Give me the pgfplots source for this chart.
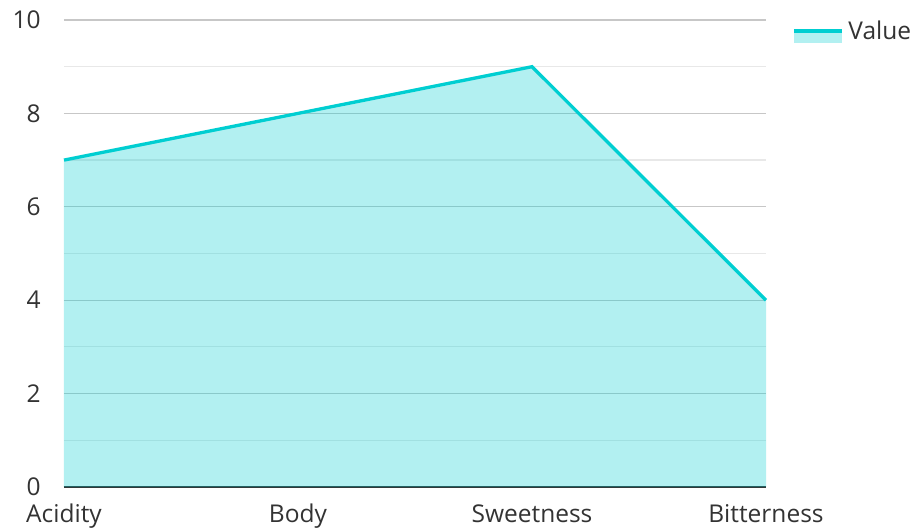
\documentclass[border=0pt]{standalone}
\usepackage{fontspec}
\setmainfont{Open Sans}
\usepackage{pgfplots}
\pgfplotsset{compat=1.18}
\definecolor{tq}{HTML}{00CED1}
\definecolor{txt}{HTML}{333333}
\pgfplotsset{layers/mine/.define layer set={axis background,axis grid,main,axis ticks,axis lines,axis tick labels,axis descriptions,axis foreground}{}}
\begin{document}
\fontsize{24.5pt}{29pt}\selectfont
\begin{tikzpicture}
\begin{axis}[name=ax, scale only axis, width=702pt, height=467pt,
  set layers=mine,
  xmin=0, xmax=3, ymin=0, ymax=10,
  xtick={0,1,2,3}, xticklabels={Acidity,Body,Sweetness,Bitterness},
  ytick={0,2,...,10}, minor ytick={1,3,5,7,9},
  ymajorgrids, yminorgrids,
  major grid style={color=black!22, line width=1.2pt},
  minor grid style={color=black!9, line width=1.2pt},
  axis x line*=bottom, axis y line*=left,
  y axis line style={draw=none},
  x axis line style={color=txt, line width=2pt, -},
  major tick length=0pt, minor tick length=0pt,
  tick style={draw=none},
  /pgf/number format/assume math mode=true,
  ticklabel style={font=\fontsize{24.5pt}{29pt}\selectfont, text=txt},
  yticklabel style={xshift=-15pt},
  xticklabel style={yshift=-9pt},
  clip=false,
  legend style={draw=none, fill=none, at={(1.037,0.974)}, anchor=west,
    inner sep=0pt, font=\fontsize{24.5pt}{29pt}\selectfont, text=txt,
    /tikz/every even column/.append style={column sep=0pt}},
  legend cell align=left,
]
\addplot[draw=none, fill=tq, fill opacity=0.3, forget plot]
  coordinates {(0,7) (1,8) (2,9) (3,4)} \closedcycle;
\addplot[tq, line width=3.3pt,
  legend image code/.code={
    \path[draw=none, fill=tq, fill opacity=0.3] (0pt,-11pt) rectangle (48pt,0pt);
    \path[draw=tq, line width=3.3pt] (0pt,1pt) -- (48pt,1pt);
  }]
  coordinates {(0,7) (1,8) (2,9) (3,4)};
\addlegendentry{\hspace{3pt}Value}
\end{axis}
\pgfresetboundingbox
\path[use as bounding box] ([xshift=-64pt,yshift=-41pt]ax.south west) rectangle ([xshift=150pt,yshift=20pt]ax.north east);
\end{tikzpicture}
\end{document}
